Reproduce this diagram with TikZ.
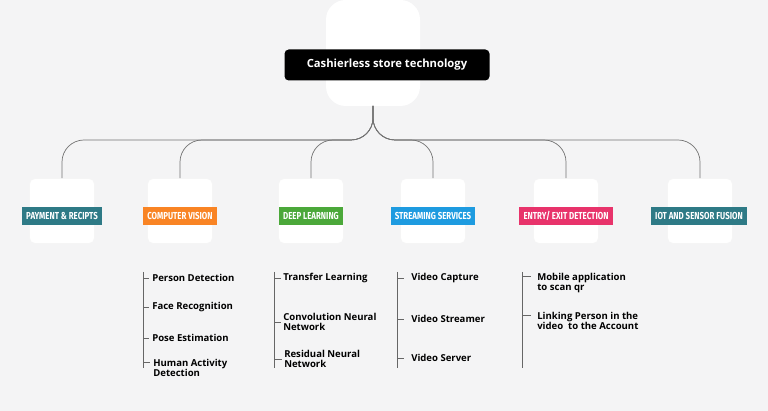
\documentclass[tikz,border=0pt]{standalone}
\usepackage{fontspec}
\setmainfont{Open Sans}
\newfontfamily\condfont[FakeStretch=0.78]{Fira Sans}
\usetikzlibrary{positioning,calc}
\definecolor{bgGray}{HTML}{F4F4F5}
\definecolor{tealLbl}{HTML}{2E7A86}
\definecolor{orangeLbl}{HTML}{F98424}
\definecolor{greenLbl}{HTML}{4BA83A}
\definecolor{blueLbl}{HTML}{1E9BE0}
\definecolor{pinkLbl}{HTML}{E8336B}
\begin{document}
\begin{tikzpicture}[x=0.025cm,y=-0.025cm,
rectCard/.style={rectangle, fill=white, draw=black!4, minimum width=65*0.025cm, minimum height=65*0.025cm, rounded corners=4pt},
rectLabel/.style={rectangle, text=white, font=\condfont\bfseries\fontsize{7.2}{8}\selectfont, minimum height=18*0.025cm, inner xsep=3pt, inner ysep=0pt},
rectTitle/.style={rectangle, fill=black, text=white, font=\bfseries\fontsize{8}{9}\selectfont, minimum width=205*0.025cm, minimum height=31*0.025cm, rounded corners=3pt},
rectItem/.style={anchor=west, font=\bfseries\fontsize{6.8}{7.6}\selectfont, align=left, inner sep=0pt},
branch/.style={draw=black!55, line width=0.5pt, rounded corners=22*0.025cm},
rail/.style={draw=black!60, line width=0.6pt}]

\fill[bgGray] (0,0) rectangle (768,411);
\useasboundingbox (0,0) rectangle (768,411);

% title
\fill[white, rounded corners=14pt] (326,0) rectangle (420,106);
\node[rectTitle] (title) at (387,65) {Cashierless store technology};
\coordinate (hub) at (373,106);

% cards
\foreach \nm/\cx in {pay/62, cv/180, dl/311, ss/433, ee/566, iot/700}{
  \node[rectCard] (card\nm) at (\cx,211) {};
  \draw[branch] (hub) |- (\cx,140) -- (card\nm.north);
}

\node[rectLabel, fill=tealLbl] (pay) at (62,216) {PAYMENT \& RECIPTS};
\node[rectLabel, fill=orangeLbl] (cv) at (180,216) {COMPUTER VISION};
\node[rectLabel, fill=greenLbl] (dl) at (311,216) {DEEP LEARNING};
\node[rectLabel, fill=blueLbl] (ss) at (433,216) {STREAMING SERVICES};
\node[rectLabel, fill=pinkLbl] (ee) at (566,216) {ENTRY/ EXIT DETECTION};
\node[rectLabel, fill=tealLbl] (iot) at (699,216) {IOT AND SENSOR FUSION};

% computer vision
\coordinate (cvTop) at (143,272);
\coordinate (cvBot) at (143,368);
\draw[rail] (cvTop) -- (cvBot);
\node[rectItem] (cv1) at (152,278) {Person Detection};
\node[rectItem] (cv2) at (152,307) {Face Recognition};
\node[rectItem] (cv3) at (152,338) {Pose Estimation};
\node[rectItem] (cv4) at (153,368) {Human Activity\\Detection};
\foreach \it in {cv1,cv2,cv3}{ \draw[rail] (cvTop|-\it.west) -- ($(\it.west)+(-3,0)$); }
\draw[rail] ($(cvTop|-cv4.north west)+(0,4)$) -- ($(cv4.north west)+(-3,4)$);

% deep learning
\coordinate (dlTop) at (274,272);
\coordinate (dlBot) at (274,368);
\draw[rail] (dlTop) -- (dlBot);
\node[rectItem] (dl1) at (283,278) {Transfer Learning};
\node[rectItem] (dl2) at (283,322) {Convolution Neural\\Network};
\node[rectItem] (dl3) at (284,359) {Residual Neural\\Network};
\foreach \it in {dl1,dl2,dl3}{ \draw[rail] (dlTop|-\it.west) -- ($(\it.west)+(-2,0)$); }

% streaming services
\coordinate (ssTop) at (397,272);
\coordinate (ssBot) at (397,368);
\draw[rail] (ssTop) -- (ssBot);
\node[rectItem] (ss1) at (411,278) {Video Capture};
\node[rectItem] (ss2) at (411,319) {Video Streamer};
\node[rectItem] (ss3) at (411,358) {Video Server};
\foreach \it in {ss1,ss2,ss3}{ \draw[rail] (ssTop|-\it.west) -- ($(\it.west)+(-7,0)$); }

% entry / exit
\coordinate (eeTop) at (522,272);
\coordinate (eeBot) at (522,368);
\draw[rail] (eeTop) -- (eeBot);
\node[rectItem] (ee1) at (537,283) {Mobile application\\to scan qr};
\node[rectItem] (ee2) at (537,321) {Linking Person in the\\video\ \ to the Account};
\foreach \it in {ee1,ee2}{ \draw[rail] ($(eeTop|-\it.north west)+(0,4)$) -- ($(\it.north west)+(-6,4)$); }

\end{tikzpicture}
\end{document}
